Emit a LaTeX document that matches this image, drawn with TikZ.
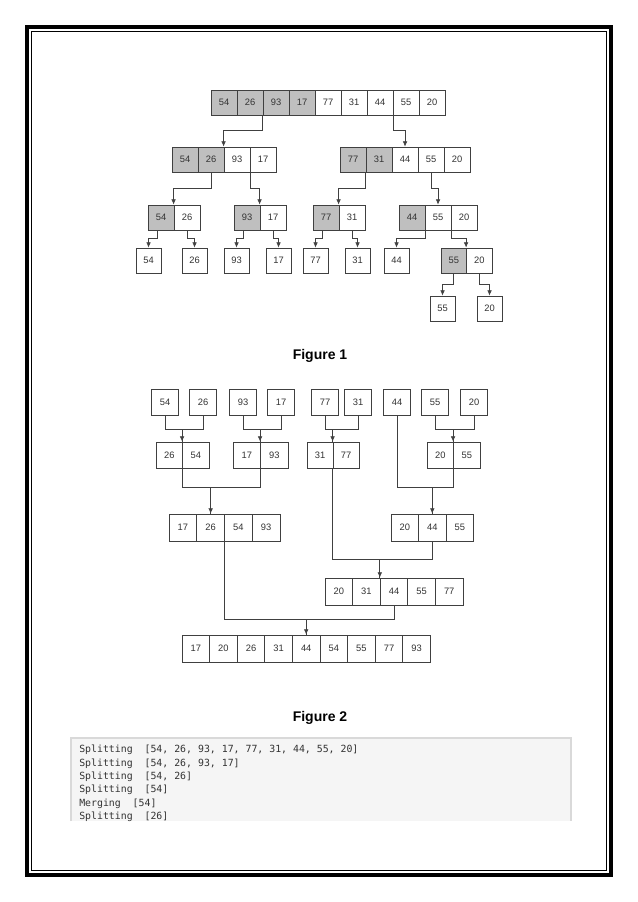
\documentclass[tikz,border=0pt]{standalone}
\usepackage{fontspec}
\setmainfont{Liberation Sans}
\newfontfamily\codefont{DejaVu Sans Mono}
\usetikzlibrary{arrows.meta,calc}
\tikzset{
 cellbox/.style={draw=black!75,line width=0.6pt,inner sep=0pt,font=\fontsize{7}{8}\selectfont,text=black!80},
 pl/.style={fill=white},
 sh/.style={fill=gray!50},
 arr/.style={draw=black!75,line width=0.5pt,-{Latex[length=4pt,width=3.5pt]}},
 ln/.style={draw=black!75,line width=0.5pt},
 cap1/.style={font=\bfseries\fontsize{10.5}{12}\selectfont},
}
\newcommand\mrow[6]{%
 \foreach \v/\s [count=\k] in {#6} {
  \node[cellbox,\s,minimum width=#4*0.75pt,minimum height=#5*0.75pt] (#1-\k) at ({#2+(\k-0.5)*#4},{#3+#5/2}) {\v};
 }}
\begin{document}
\begin{tikzpicture}[x=0.75pt,y=-0.75pt]
\useasboundingbox (0,0) rectangle (638,902);
\fill[white] (0,0) rectangle (638,902);
\draw[line width=2.4pt] (27,27) rectangle (611,875);
\draw[line width=0.6pt] (31.5,31.5) rectangle (606.5,870.5);
% ---------- Figure 1
\mrow{t}{211}{90}{26}{25}{54/sh,26/sh,93/sh,17/sh,77/pl,31/pl,44/pl,55/pl,20/pl}
\mrow{l}{172}{147}{26}{25}{54/sh,26/sh,93/pl,17/pl}
\mrow{r}{340}{147}{26}{25}{77/sh,31/sh,44/pl,55/pl,20/pl}
\mrow{ba}{148}{205}{26}{25}{54/sh,26/pl}
\mrow{bb}{234}{205}{26}{25}{93/sh,17/pl}
\mrow{bc}{313}{205}{26}{25}{77/sh,31/pl}
\mrow{bd}{399}{205}{26}{25}{44/sh,55/pl,20/pl}
\mrow{ca}{136}{248}{25}{25}{54/pl}
\mrow{cb}{182}{248}{25}{25}{26/pl}
\mrow{cc}{224}{248}{25}{25}{93/pl}
\mrow{cd}{266}{248}{25}{25}{17/pl}
\mrow{ce}{303}{248}{25}{25}{77/pl}
\mrow{cf}{345}{248}{25}{25}{31/pl}
\mrow{cg}{384}{248}{25}{25}{44/pl}
\mrow{ch}{441}{248}{25.5}{25}{55/sh,20/pl}
\mrow{da}{430}{296}{25}{25}{55/pl}
\mrow{db}{477}{296}{25}{25}{20/pl}
\draw[arr] (t-3.south west) -- ++(0,15) -| (l-3.north west);
\draw[arr] (t-7.south east) -- ++(0,15) -| (r-3.north);
\draw[arr] (l-2.south) -- ++(0,16) -| (ba-2.north west);
\draw[arr] (l-3.south east) -- ++(0,16) -| (bb-2.north west);
\draw[arr] (r-2.south west) -- ++(0,16) -| (bc-2.north west);
\draw[arr] (r-4.south) -- ++(0,16) -| (bd-2.north);
\draw[arr] ([xshift=-3pt]ba-1.south) -- ++(0,8) -| (ca-1.north);
\draw[arr] (ba-2.south) -- ++(0,8) -| (cb-1.north);
\draw[arr] ([xshift=-3pt]bb-1.south) -- ++(0,8) -| (cc-1.north);
\draw[arr] (bb-2.south) -- ++(0,8) -| (cd-1.north);
\draw[arr] ([xshift=-3pt]bc-1.south) -- ++(0,8) -| (ce-1.north);
\draw[arr] (bc-2.south) -- ++(0,8) -| (cf-1.north);
\draw[arr] (bd-1.south east) -- ++(0,8) -| (cg-1.north);
\draw[arr] (bd-2.south east) -- ++(0,8) -| (ch-2.north west);
\draw[arr] (ch-1.south) -- ++(0,11) -| (da-1.north);
\draw[arr] (ch-2.south) -- ++(0,11) -| (db-1.north);
\node[cap1] (cap1) at (320,356) {Figure 1};
% ---------- Figure 2
\mrow{sa}{151.5}{389}{27}{26}{54/pl}
\mrow{sb}{189.5}{389}{27}{26}{26/pl}
\mrow{sc}{229.5}{389}{27}{26}{93/pl}
\mrow{sd}{267.5}{389}{27}{26}{17/pl}
\mrow{se}{311.5}{389}{27}{26}{77/pl}
\mrow{sf}{344.5}{389}{27}{26}{31/pl}
\mrow{sg}{383.5}{389}{27}{26}{44/pl}
\mrow{sh}{421.5}{389}{27}{26}{55/pl}
\mrow{si}{460.5}{389}{27}{26}{20/pl}
\mrow{pa}{156}{442}{26.5}{26}{26/pl,54/pl}
\mrow{pb}{233}{442}{27.5}{26}{17/pl,93/pl}
\mrow{pc}{307}{442}{26}{26}{31/pl,77/pl}
\mrow{pd}{427}{442}{26.5}{26}{20/pl,55/pl}
\mrow{fa}{169}{514}{27.75}{27}{17/pl,26/pl,54/pl,93/pl}
\mrow{fb}{391}{514}{27.5}{27}{20/pl,44/pl,55/pl}
\mrow{g}{325}{578}{27.6}{27}{20/pl,31/pl,44/pl,55/pl,77/pl}
\mrow{h}{182}{635}{27.6}{27}{17/pl,20/pl,26/pl,31/pl,44/pl,54/pl,55/pl,77/pl,93/pl}
\draw[arr] (sa-1.south) -- ++(0,14) -| (pa-2.north west);
\draw[ln] (sb-1.south) -- ++(0,14) -| (pa-2.north west);
\draw[arr] (sc-1.south) -- ++(0,14) -| (pb-2.north west);
\draw[ln] (sd-1.south) -- ++(0,14) -| (pb-2.north west);
\draw[arr] (se-1.south) -- ++(0,14) -| (pc-2.north west);
\draw[ln] (sf-1.south) -- ++(0,14) -| (pc-2.north west);
\draw[arr] (sh-1.south) -- ++(0,14) -| (pd-2.north west);
\draw[ln] (si-1.south) -- ++(0,14) -| (pd-2.north west);
\draw[arr] (pa-2.south west) -- ++(0,19) -| (fa-2.north);
\draw[ln] (pb-2.south west) -- ++(0,19) -| (fa-2.north);
\draw[arr] (sg-1.south) -- ++(0,72) -| (fb-2.north);
\draw[ln] (pd-2.south west) -- ++(0,19) -| (fb-2.north);
\draw[arr] (pc-2.south west) -- ++(0,91) -| (g-3.north west);
\draw[ln] (fb-2.south) -- ++(0,18) -| (g-3.north west);
\draw[arr] (fa-3.south west) -- ++(0,78) -| (h-5.north);
\draw[ln] (g-3.south) -- ++(0,14) -| (h-5.north);
\node[cap1] (cap2) at (320,718) {Figure 2};
% ---------- code block
\fill[black!4] (71,738) rectangle (571,821);
\draw[black!15,line width=0.8pt] (71,821) -- (71,738) -- (571,738) -- (571,821);
\node[anchor=north west,inner sep=0pt,align=left,text=black!80,
 font=\codefont\fontsize{7.4}{10}\selectfont] (code) at (79,745)
 {Splitting\ \ [54, 26, 93, 17, 77, 31, 44, 55, 20]\\
  Splitting\ \ [54, 26, 93, 17]\\
  Splitting\ \ [54, 26]\\
  Splitting\ \ [54]\\
  Merging\ \ [54]\\
  Splitting\ \ [26]};
\end{tikzpicture}
\end{document}
